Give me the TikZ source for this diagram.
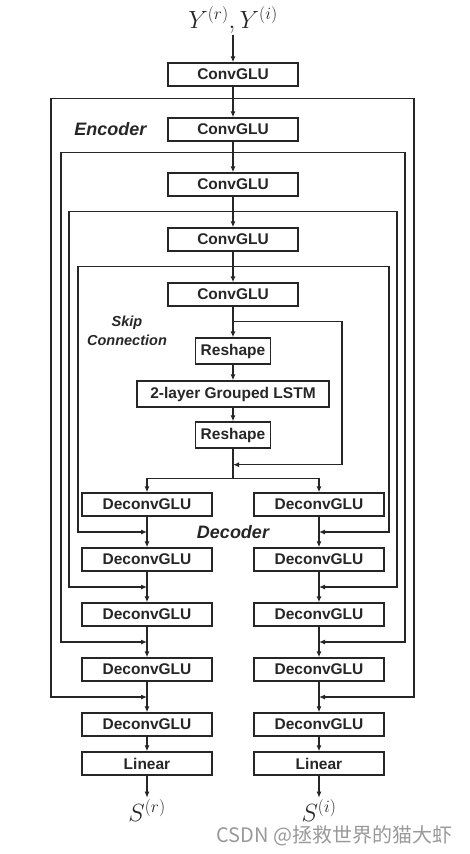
\documentclass[tikz,border=0pt]{standalone}
\usepackage{fontspec}
\setsansfont{Liberation Sans}
\newfontfamily\cjkfont{Noto Sans CJK SC}
\usetikzlibrary{arrows.meta,positioning,calc}

\begin{document}
\begin{tikzpicture}[x=1pt,y=-1pt,>={Latex[length=6pt,width=5pt]},
  line width=1.1pt,color=black!85,node distance=30.6pt,
  block/.style={draw,line width=1.4pt,minimum width=130pt,minimum height=23pt,inner sep=0pt,
    font=\sffamily\bfseries\fontsize{15.5}{17}\selectfont},
  thin block/.style={block,minimum width=75pt,minimum height=26pt},
  tag/.style={font=\sffamily\bfseries\itshape\fontsize{18}{21}\selectfont},
  sig/.style={inner sep=1pt,font=\fontsize{25}{28}\selectfont}]
    \useasboundingbox (0,0) rectangle (470,854);
    \node[sig](yin) at (233,20) {$Y^{(r)},Y^{(i)}$};
    \node[block](c1) at (233,74.5) {ConvGLU};
    \node[block,below=of c1](c2) {ConvGLU};
    \node[block,below=of c2](c3) {ConvGLU};
    \node[block,below=of c3](c4) {ConvGLU};
    \node[block,below=of c4](c5) {ConvGLU};
    \node[thin block,below=of c5](rs1) {Reshape};
    \node[thin block,minimum width=192pt,below=15.6pt of rs1](lstm) {2-layer Grouped LSTM};
    \node[thin block,below=13.6pt of lstm](rs2) {Reshape};
    \node[block,below=43.6pt of rs2,xshift=-86pt](re1) {DeconvGLU};
    \node[block,below=of re1](re2) {DeconvGLU};
    \node[block,below=of re2](re3) {DeconvGLU};
    \node[block,below=of re3](re4) {DeconvGLU};
    \node[block,below=of re4](re5) {DeconvGLU};
    \node[block,below=14.6pt of re5](linre) {Linear};
    \node[block,below=43.6pt of rs2,xshift=86pt](im1) {DeconvGLU};
    \node[block,below=of im1](im2) {DeconvGLU};
    \node[block,below=of im2](im3) {DeconvGLU};
    \node[block,below=of im3](im4) {DeconvGLU};
    \node[block,below=of im4](im5) {DeconvGLU};
    \node[block,below=14.6pt of im5](linim) {Linear};
    \node[sig,below=22pt of linre](sre) {$S^{(r)}$};
    \node[sig,below=22pt of linim](sim) {$S^{(i)}$};
    \node[tag,left=17pt of c2](enc) {Encoder};
    \node[tag,align=center,font=\sffamily\bfseries\itshape\fontsize{14.5}{19}\selectfont](skp) at (127,331) {Skip\\Connection};
    \node[anchor=east,text=black!40,font=\cjkfont\fontsize{20}{22}\selectfont](wm) at (456,836) {CSDN @拯救世界的猫大虾};

    \coordinate (t1) at ($(c1.south)!.38!(c2.north)$);
    \coordinate (t2) at ($(c2.south)!.35!(c3.north)$);
    \coordinate (t3) at ($(c3.south)!.47!(c4.north)$);
    \coordinate (t4) at ($(c4.south)!.47!(c5.north)$);
    \coordinate (f1l) at ([xshift=-182pt]t1); \coordinate (f1r) at ([xshift=181pt]t1);
    \coordinate (f2l) at ([xshift=-172pt]t2); \coordinate (f2r) at ([xshift=172pt]t2);
    \coordinate (f3l) at ([xshift=-164pt]t3); \coordinate (f3r) at ([xshift=164pt]t3);
    \coordinate (f4l) at ([xshift=-155pt]t4); \coordinate (f4r) at ([xshift=156pt]t4);
    \coordinate (l4) at ($(re1.south)!.5!(re2.north)$); \coordinate (r4) at ($(im1.south)!.5!(im2.north)$);
    \coordinate (l3) at ($(re2.south)!.5!(re3.north)$); \coordinate (r3) at ($(im2.south)!.5!(im3.north)$);
    \coordinate (l2) at ($(re3.south)!.5!(re4.north)$); \coordinate (r2) at ($(im3.south)!.5!(im4.north)$);
    \coordinate (l1) at ($(re4.south)!.5!(re5.north)$); \coordinate (r1) at ($(im4.south)!.5!(im5.north)$);
    \coordinate (sk) at ($(c5.south)!.47!(rs1.north)$);
    \coordinate (jn) at ([yshift=-16pt]rs2.south);
    \coordinate (sp) at ([yshift=-30pt]rs2.south);
    \node[tag](dec) at ($(l4)!.5!(r4)$) {Decoder};

    \draw[->] (yin) -- (c1);
    \draw[->] (c1) -- (c2);
    \draw[->] (c2) -- (c3);
    \draw[->] (c3) -- (c4);
    \draw[->] (c4) -- (c5);
    \draw[->] (c5) -- (rs1);
    \draw[->] (rs1) -- (lstm);
    \draw[->] (lstm) -- (rs2);
    \draw (rs2) -- (sp);
    \draw[->] (sk) -- ++(109,0) |- (jn);
    \draw[->] (sp) -| (re1);
    \draw[->] (sp) -| (im1);

    \draw[<->] (l1) -| (f1l) -- (f1r) |- (r1);
    \draw[<->] (l2) -| (f2l) -- (f2r) |- (r2);
    \draw[<->] (l3) -| (f3l) -- (f3r) |- (r3);
    \draw[<->] (l4) -| (f4l) -- (f4r) |- (r4);

    \draw[->] (re1) -- (re2);
    \draw[->] (re2) -- (re3);
    \draw[->] (re3) -- (re4);
    \draw[->] (re4) -- (re5);
    \draw[->] (re5) -- (linre);
    \draw[->] (linre) -- (sre);
    \draw[->] (im1) -- (im2);
    \draw[->] (im2) -- (im3);
    \draw[->] (im3) -- (im4);
    \draw[->] (im4) -- (im5);
    \draw[->] (im5) -- (linim);
    \draw[->] (linim) -- (sim);

\end{tikzpicture}
\end{document}
